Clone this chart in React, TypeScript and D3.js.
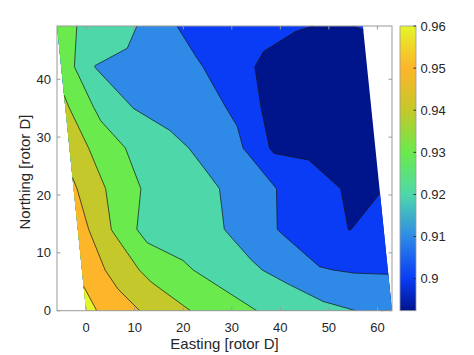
import React from "react";
import * as d3 from "d3";

// ---------- axis / colourbar ticks ----------
const eastingTicks = [0, 10, 20, 30, 40, 50, 60];
const northingTicks = [0, 10, 20, 30, 40];
const colorbarTicks = [0.9, 0.91, 0.92, 0.93, 0.94, 0.95, 0.96];
const colorbarTickLabels = ["0.9", "0.91", "0.92", "0.93", "0.94", "0.95", "0.96"];
const contourLevels = [0.9, 0.91, 0.92, 0.93, 0.94, 0.95, 0.96];

// ---------- data grid (sheared lattice) ----------
// columns: easting of the lattice node at the bottom edge; rows: northing
const gridEasting = [0, 7, 14, 21, 28, 35, 42, 49, 56, 63];
const gridNorthing = [0, 7.03, 14.06, 21.09, 28.11, 35.14, 42.17, 49.2];
const westShiftAtTop = 6; // lattice leans 6 D to the west at the top row

const effRow0 = [0.9625, 0.9545, 0.9467, 0.9404, 0.9352, 0.9301, 0.9264, 0.9228, 0.9198, 0.9201];
const effRow1 = [0.9583, 0.9461, 0.9372, 0.9314, 0.9263, 0.9214, 0.9168, 0.9105, 0.9092, 0.9088];
const effRow2 = [0.9548, 0.9398, 0.9265, 0.9255, 0.9218, 0.916, 0.9091, 0.9044, 0.8998, 0.904];
const effRow3 = [0.9512, 0.9393, 0.9298, 0.9257, 0.9216, 0.9161, 0.9098, 0.906, 0.899, 0.8995];
const effRow4 = [0.9468, 0.9347, 0.9274, 0.9227, 0.9174, 0.9114, 0.8985, 0.8975, 0.893, 0.895];
const effRow5 = [0.9415, 0.9277, 0.9198, 0.9165, 0.9131, 0.9088, 0.8972, 0.8925, 0.893, 0.8945];
const effRow6 = [0.9365, 0.9198, 0.9171, 0.914, 0.911, 0.9051, 0.8978, 0.893, 0.8935, 0.896];
const effRow7 = [0.9335, 0.9275, 0.9235, 0.9135, 0.9069, 0.9062, 0.9037, 0.9011, 0.899, 0.9004];
const efficiencyRows = [effRow0, effRow1, effRow2, effRow3, effRow4, effRow5, effRow6, effRow7];

// colour limits and colormap
const cMin = 0.8924;
const cMax = 0.96;
const cmapValues = [0.8924, 0.9, 0.91, 0.92, 0.93, 0.94, 0.95, 0.96];
const cmapColors = ["#00148C", "#0A3CF5", "#2E8AE6", "#4ED8AA", "#6AEA4C", "#C4C82A", "#FDB52A", "#E4F52A"];

const FONT = "'Liberation Sans', Arial, Helvetica, sans-serif";
const TXT = "#262626";
const AX = "#9a9a9a";

export default function App() {
  const nCols = gridEasting.length;
  const nRows = gridNorthing.length;
  const values = efficiencyRows.flat();

  const left = 57, right = 392, top = 26, bottom = 310.7;
  const x = d3.scaleLinear().domain([-6, 63]).range([left, right]);
  const y = d3.scaleLinear().domain([0, 49.2]).range([bottom, top]);
  const cbX0 = 400, cbX1 = 416;
  const cy = d3.scaleLinear().domain([cMin, cMax]).range([bottom, top]);
  const cmap = d3.scaleLinear<string>().domain(cmapValues).range(cmapColors).interpolate(d3.interpolateRgb).clamp(true);

  const uAt = d3.scaleLinear().domain([0, nCols - 1]).range([gridEasting[0], gridEasting[nCols - 1]]).clamp(true);
  const nAt = d3.scaleLinear().domain([0, nRows - 1]).range([gridNorthing[0], gridNorthing[nRows - 1]]).clamp(true);
  const nMax = gridNorthing[nRows - 1];

  const toPx = (p: number[]) => {
    const u = uAt(p[0] - 0.5);
    const n = nAt(p[1] - 0.5);
    const e = u - (westShiftAtTop * n) / nMax;
    return [x(e), y(n)];
  };
  const side = (p: number[]) => {
    const s: string[] = [];
    if (p[0] <= 0.5 + 1e-9) s.push("L");
    if (p[0] >= nCols - 0.5 - 1e-9) s.push("R");
    if (p[1] <= 0.5 + 1e-9) s.push("B");
    if (p[1] >= nRows - 0.5 - 1e-9) s.push("T");
    return s;
  };

  const fillThresholds = [0.88, ...contourLevels];
  const contours = d3.contours().size([nCols, nRows]).thresholds(fillThresholds)(values);

  const fills = contours.map((c, k) => {
    let d = "";
    c.coordinates.forEach((poly) => {
      poly.forEach((ring) => {
        ring.forEach((p, i) => {
          const q = toPx(p);
          d += (i === 0 ? "M" : "L") + q[0].toFixed(2) + "," + q[1].toFixed(2);
        });
        d += "Z";
      });
    });
    const col = k === 0 ? cmap(cMin) : cmap(fillThresholds[k]);
    return { d, col };
  });

  const lines = contours.slice(1).map((c) => {
    let d = "";
    c.coordinates.forEach((poly) => {
      poly.forEach((ring) => {
        let penDown = false;
        for (let i = 1; i < ring.length; i++) {
          const a = ring[i - 1], b = ring[i];
          const sa = side(a), sb = side(b);
          const onEdge = sa.some((s) => sb.includes(s));
          if (onEdge) { penDown = false; continue; }
          const qa = toPx(a), qb = toPx(b);
          if (!penDown) d += "M" + qa[0].toFixed(2) + "," + qa[1].toFixed(2);
          d += "L" + qb[0].toFixed(2) + "," + qb[1].toFixed(2);
          penDown = true;
        }
      });
    });
    return d;
  });

  const tl = 3.5;
  const stopOffsets = cmapValues.map((v) => (v - cMin) / (cMax - cMin));

  return (
    <svg width={474} height={355} style={{ position: "absolute", left: 0, top: 0, background: "#fff" }} fontFamily={FONT}>
      <defs>
        <linearGradient id="cbar" x1="0" y1="1" x2="0" y2="0">
          {cmapColors.map((c, i) => (
            <stop key={i} offset={stopOffsets[i]} stopColor={c} />
          ))}
        </linearGradient>
      </defs>
      <rect x={0} y={0} width={474} height={355} fill="#fff" />

      {/* filled contour bands */}
      {fills.map((f, i) => (
        <path key={i} d={f.d} fill={f.col} fillRule="evenodd" stroke="none" />
      ))}
      {lines.map((d, i) => (
        <path key={i} d={d} fill="none" stroke="#141414" strokeWidth={0.7} strokeLinejoin="round" />
      ))}

      {/* axes box */}
      <rect x={left} y={top} width={right - left} height={bottom - top} fill="none" stroke={AX} strokeWidth={1} />
      {eastingTicks.map((t) => (
        <g key={"xt" + t}>
          <line x1={x(t)} x2={x(t)} y1={bottom} y2={bottom - tl} stroke={AX} />
          <line x1={x(t)} x2={x(t)} y1={top} y2={top + tl} stroke={AX} />
          <text x={x(t)} y={331.5} fontSize={13} fill={TXT} textAnchor="middle">{t}</text>
        </g>
      ))}
      {northingTicks.map((t) => (
        <g key={"yt" + t}>
          <line x1={left} x2={left + tl} y1={y(t)} y2={y(t)} stroke={AX} />
          <line x1={right} x2={right - tl} y1={y(t)} y2={y(t)} stroke={AX} />
          <text x={51} y={y(t) + 4.6} fontSize={13} fill={TXT} textAnchor="end">{t}</text>
        </g>
      ))}
      <text x={224.5} y={349} fontSize={15} fill={TXT} textAnchor="middle">Easting [rotor D]</text>
      <text transform="translate(30,172) rotate(-90)" fontSize={15} fill={TXT} textAnchor="middle">Northing [rotor D]</text>

      {/* colourbar */}
      <rect x={cbX0} y={top} width={cbX1 - cbX0} height={bottom - top} fill="url(#cbar)" stroke={AX} strokeWidth={0.8} />
      {colorbarTicks.map((t, i) => (
        <g key={"ct" + i}>
          <line x1={cbX1} x2={cbX1 - 2.5} y1={cy(t)} y2={cy(t)} stroke="#333" />
          <text x={420.5} y={cy(t) + 4.6} fontSize={13} fill={TXT} textAnchor="start">{colorbarTickLabels[i]}</text>
        </g>
      ))}
    </svg>
  );
}
